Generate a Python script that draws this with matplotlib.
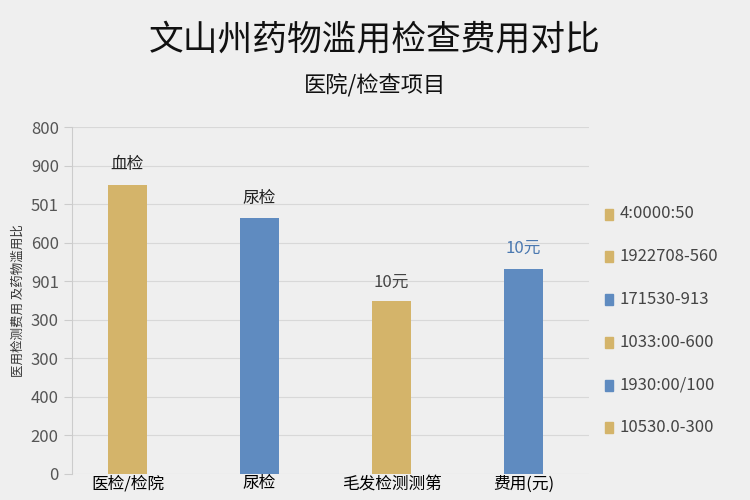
import matplotlib
matplotlib.use("Agg")
import matplotlib.pyplot as plt

plt.rcParams['font.family'] = ['Noto Sans CJK SC', 'DejaVu Sans']

categories = ["医检/检院", "尿检", "毛发检测测第", "费用(元)"]
values = [750, 665, 448, 531]
bar_colors = ["#d4b46a", "#5f8bc0", "#d4b46a", "#5f8bc0"]
bar_labels = ["血检", "尿检", "10元", "10元"]
label_colors = ["#222222", "#222222", "#444444", "#4a78b0"]
label_offsets = [30, 28, 26, 32]
tick_values = [0, 100, 200, 300, 400, 500, 600, 700, 800, 900]
tick_labels = ["0", "200", "400", "300", "300", "901", "600", "501", "900", "800"]
legend_labels = ["4:0000:50", "1922708-560", "171530-913", "1033:00-600", "1930:00/100", "10530.0-300"]
legend_colors = ["#d4b46a", "#d4b46a", "#5f8bc0", "#d4b46a", "#5f8bc0", "#d4b46a"]

bg = "#efefef"
fig = plt.figure(figsize=(7.5, 5), dpi=100, facecolor=bg)
ax = fig.add_axes([0.096, 0.052, 0.69, 0.694], facecolor=bg)
x = range(len(categories))
ax.bar(x, values, width=0.3, color=bar_colors, zorder=3)
for i, v in enumerate(values):
    ax.text(i, v + label_offsets[i], bar_labels[i], ha='center', va='bottom',
            fontsize=12, color=label_colors[i])
ax.set_xlim(-0.42, 3.5)
ax.set_ylim(0, 900)
ax.set_yticks(tick_values)
ax.set_yticklabels(tick_labels, fontsize=12, color="#555555")
ax.set_xticks(list(x))
ax.set_xticklabels(categories, fontsize=12)
ax.tick_params(axis='x', length=0, pad=1)
ax.grid(axis='y', color="#d8d8d8", lw=0.8, zorder=0)
for s in ['top', 'right', 'bottom']:
    ax.spines[s].set_visible(False)
ax.spines['left'].set_color("#cccccc")
ax.tick_params(axis='y', length=6, color="#cccccc")
ax.set_ylabel("医用检测费用 及药物滥用比", fontsize=9, color="#333333")

fig.text(0.5, 0.9, "文山州药物滥用检查费用对比", ha='center', fontsize=25, color="#111111")
fig.text(0.5, 0.815, "医院/检查项目", ha='center', fontsize=16, color="#111111")

for i, (lab, c) in enumerate(zip(legend_labels, legend_colors)):
    y = 0.572 - i * 0.0855
    fig.patches.append(plt.Rectangle((0.807, y - 0.011), 0.01, 0.022, color=c, transform=fig.transFigure))
    fig.text(0.826, y, lab, va='center', fontsize=12, color="#444444")

fig.savefig("out.png", dpi=100, facecolor=bg)
